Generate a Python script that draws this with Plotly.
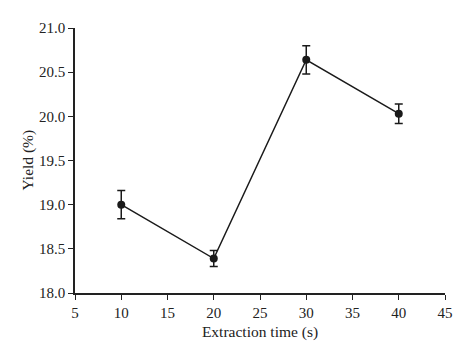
import plotly.graph_objects as go

times = [10, 20, 30, 40]
yield_pct = [19.00, 18.39, 20.64, 20.03]
errors = [0.16, 0.09, 0.16, 0.11]
x_ticks = [5, 10, 15, 20, 25, 30, 35, 40, 45]
y_ticks = [18.0, 18.5, 19.0, 19.5, 20.0, 20.5, 21.0]

fig = go.Figure(go.Scatter(
    x=times, y=yield_pct, mode="lines+markers",
    line=dict(color="#1a1a1a", width=1.5),
    marker=dict(color="#1a1a1a", size=8),
    error_y=dict(type="data", array=errors, color="#1a1a1a", thickness=1.5, width=4),
))

font = dict(family="Liberation Serif, DejaVu Serif, serif", color="#222", size=15)
fig.update_layout(
    width=474, height=360,
    margin=dict(l=67, r=37, t=20, b=75, autoexpand=False),
    paper_bgcolor="white", plot_bgcolor="white",
    showlegend=False, font=font,
)
fig.update_xaxes(
    range=[5, 45], tickvals=x_ticks, ticktext=[str(v) for v in x_ticks],
    showgrid=False, zeroline=False, showline=True, linecolor="#222", linewidth=1.5,
    ticks="outside", ticklen=5, tickcolor="#222", tickwidth=1.2, automargin=False,
    title=dict(text="Extraction time (s)", standoff=6, font=dict(size=15.5)),
)
fig.update_yaxes(
    range=[18, 21], tickvals=y_ticks, ticktext=[f"{v:.1f}" for v in y_ticks],
    showgrid=False, zeroline=False, showline=True, linecolor="#222", linewidth=1.5,
    ticks="outside", ticklen=5, tickcolor="#222", tickwidth=1.2, automargin=False,
)
fig.add_annotation(
    text="Yield (%)", xref="paper", yref="paper", x=0, y=0.5,
    xshift=-48, xanchor="center", yanchor="middle", textangle=-90,
    showarrow=False, font=dict(size=15.5),
)
fig.write_html("out.html")
